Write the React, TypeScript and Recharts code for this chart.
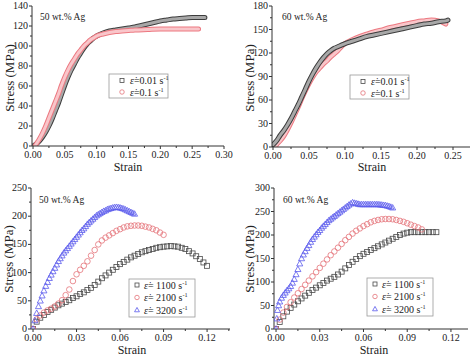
import React from 'react';
import { ComposedChart, Line, Scatter, XAxis, YAxis } from 'recharts';

const W = 474;
const H = 355;
const FONT = '"Liberation Serif", "DejaVu Serif", serif';

// ---------- Panel 1: 50 wt.% Ag, quasi-static ----------
const p1Slow: [number, number][] = [
  [0, 0], [0.005, 2], [0.01, 5], [0.015, 9], [0.02, 14], [0.025, 20], [0.03, 27], [0.035, 35],
  [0.04, 43], [0.045, 52], [0.05, 61], [0.055, 69], [0.06, 76], [0.065, 82], [0.07, 88],
  [0.075, 93], [0.08, 98], [0.085, 102], [0.09, 105], [0.095, 108], [0.1, 110], [0.11, 113],
  [0.12, 115], [0.13, 116], [0.14, 117], [0.15, 118], [0.16, 119], [0.17, 120.5], [0.18, 122],
  [0.19, 123.5], [0.2, 125], [0.21, 126], [0.22, 127], [0.23, 127.5], [0.24, 128], [0.25, 128.5],
  [0.26, 128.5], [0.27, 128.5],
];
const p1Fast: [number, number][] = [
  [0.003, 0], [0.005, 2], [0.01, 7], [0.015, 13], [0.02, 20], [0.025, 28], [0.03, 36], [0.035, 44],
  [0.04, 52], [0.045, 61], [0.05, 69], [0.055, 76], [0.06, 82], [0.065, 87], [0.07, 92],
  [0.075, 96], [0.08, 100], [0.085, 103], [0.09, 106], [0.095, 108], [0.1, 110], [0.11, 112],
  [0.12, 113.5], [0.13, 114.5], [0.14, 115], [0.15, 115.5], [0.16, 116], [0.18, 116.5],
  [0.2, 117], [0.22, 117], [0.24, 117], [0.26, 117],
];
const p1XTicks = [0, 0.025, 0.05, 0.075, 0.1, 0.125, 0.15, 0.175, 0.2, 0.225, 0.25, 0.275, 0.3];
const p1YTicks = [0, 10, 20, 30, 40, 50, 60, 70, 80, 90, 100, 110, 120, 130, 140];

// ---------- Panel 2: 60 wt.% Ag, quasi-static ----------
const p2Slow: [number, number][] = [
  [0, 3], [0.005, 8], [0.01, 15], [0.015, 21], [0.02, 28], [0.025, 36], [0.03, 45], [0.035, 54],
  [0.04, 64], [0.045, 74], [0.05, 84], [0.055, 93], [0.06, 101], [0.065, 108], [0.07, 114],
  [0.075, 119], [0.08, 123], [0.085, 126], [0.09, 128], [0.095, 130], [0.1, 132], [0.11, 135],
  [0.12, 138], [0.13, 141], [0.14, 143], [0.15, 145], [0.16, 147], [0.17, 149], [0.18, 151],
  [0.19, 153], [0.2, 155], [0.21, 157], [0.22, 158], [0.23, 160], [0.24, 161], [0.243, 162],
];
const p2Fast: [number, number][] = [
  [0.003, 0], [0.005, 3], [0.01, 8], [0.015, 14], [0.02, 22], [0.025, 31], [0.03, 41], [0.035, 51],
  [0.04, 62], [0.045, 72], [0.05, 81], [0.055, 89], [0.06, 96], [0.065, 101], [0.07, 106],
  [0.075, 110], [0.08, 115], [0.085, 119], [0.09, 123], [0.095, 128], [0.1, 132], [0.11, 137],
  [0.12, 141], [0.13, 144], [0.14, 147], [0.15, 149], [0.16, 152], [0.17, 154], [0.18, 156],
  [0.19, 158], [0.2, 160], [0.21, 161], [0.22, 162], [0.23, 161], [0.24, 157],
];
const p2XTicks = [0, 0.025, 0.05, 0.075, 0.1, 0.125, 0.15, 0.175, 0.2, 0.225, 0.25];
const p2YTicks = [0, 15, 30, 45, 60, 75, 90, 105, 120, 135, 150, 165, 180];

// ---------- Panel 3: 50 wt.% Ag, dynamic ----------
const p3R1100: [number, number][] = [
  [0, 0], [0.0025, 13], [0.005, 20], [0.0075, 25], [0.01, 30], [0.0125, 34], [0.015, 38],
  [0.0175, 42], [0.02, 45], [0.0225, 48], [0.025, 51], [0.0275, 55], [0.03, 58], [0.0325, 62],
  [0.035, 65], [0.0375, 69], [0.04, 73], [0.0425, 78], [0.045, 84], [0.0475, 90], [0.05, 95],
  [0.0525, 100], [0.055, 105], [0.0575, 110], [0.06, 115], [0.0625, 119], [0.065, 123],
  [0.0675, 127], [0.07, 130], [0.0725, 133], [0.075, 136], [0.0775, 138], [0.08, 140],
  [0.0825, 142], [0.085, 144], [0.0875, 145], [0.09, 146], [0.0925, 146.5], [0.095, 147],
  [0.0975, 146.5], [0.1, 146], [0.1025, 144], [0.105, 142], [0.1075, 138], [0.11, 134],
  [0.1125, 129], [0.115, 124], [0.1175, 118], [0.12, 112],
];
const p3R2100: [number, number][] = [
  [0, 0], [0.0025, 17], [0.005, 24], [0.0075, 29], [0.01, 33], [0.0125, 36], [0.015, 40],
  [0.0175, 45], [0.02, 51], [0.0225, 60], [0.025, 70], [0.0275, 85], [0.03, 97], [0.0325, 105],
  [0.035, 112], [0.0375, 120], [0.04, 130], [0.0425, 140], [0.045, 150], [0.0475, 157],
  [0.05, 162], [0.0525, 166], [0.055, 170], [0.0575, 174], [0.06, 177], [0.0625, 180],
  [0.065, 182], [0.0675, 183], [0.07, 183.5], [0.0725, 183.5], [0.075, 183], [0.0775, 181.5],
  [0.08, 180], [0.0825, 177.5], [0.085, 175], [0.0875, 171], [0.09, 167],
];
const p3R3200: [number, number][] = [
  [0, 0], [0.00125, 15], [0.0025, 28], [0.00375, 40], [0.005, 50], [0.00625, 59], [0.0075, 68],
  [0.00875, 76], [0.01, 83], [0.01125, 90], [0.0125, 96], [0.01375, 102], [0.015, 108],
  [0.01625, 114], [0.0175, 120], [0.01875, 125], [0.02, 130], [0.02125, 135], [0.0225, 139],
  [0.02375, 143], [0.025, 147], [0.02625, 151], [0.0275, 155], [0.02875, 159], [0.03, 163],
  [0.03125, 167], [0.0325, 171], [0.03375, 175], [0.035, 178], [0.03625, 182], [0.0375, 186],
  [0.03875, 189], [0.04, 192], [0.04125, 195], [0.0425, 198], [0.04375, 201], [0.045, 203],
  [0.04625, 205], [0.0475, 207], [0.04875, 209], [0.05, 210], [0.05125, 212], [0.0525, 213],
  [0.05375, 214], [0.055, 215], [0.05625, 215.5], [0.0575, 216], [0.05875, 215.5], [0.06, 215],
  [0.06125, 214], [0.0625, 213], [0.06375, 211.5], [0.065, 210], [0.06625, 208.5], [0.0675, 207],
  [0.06875, 205.5], [0.07, 204],
];
const p3XTicks = [0, 0.015, 0.03, 0.045, 0.06, 0.075, 0.09, 0.105, 0.12, 0.135];
const p3YTicks = [0, 25, 50, 75, 100, 125, 150, 175, 200, 225, 250];

// ---------- Panel 4: 60 wt.% Ag, dynamic ----------
const p4R1100: [number, number][] = [
  [0, 0], [0.0025, 15], [0.005, 27], [0.0075, 37], [0.01, 45], [0.0125, 52], [0.015, 59],
  [0.0175, 65], [0.02, 71], [0.0225, 77], [0.025, 83], [0.0275, 88], [0.03, 93], [0.0325, 98],
  [0.035, 103], [0.0375, 107], [0.04, 111], [0.0425, 116], [0.045, 122], [0.0475, 129],
  [0.05, 136], [0.0525, 143], [0.055, 149], [0.0575, 155], [0.06, 160], [0.0625, 164],
  [0.065, 168], [0.0675, 172], [0.07, 176], [0.0725, 180], [0.075, 184], [0.0775, 188],
  [0.08, 192], [0.0825, 196], [0.085, 200], [0.0875, 203], [0.09, 205], [0.0925, 206],
  [0.095, 206], [0.0975, 206], [0.1, 206], [0.1025, 206], [0.105, 206], [0.1075, 206], [0.11, 206],
];
const p4R2100: [number, number][] = [
  [0, 0], [0.0025, 20], [0.005, 35], [0.0075, 47], [0.01, 57], [0.0125, 67], [0.015, 76],
  [0.0175, 85], [0.02, 94], [0.0225, 103], [0.025, 112], [0.0275, 121], [0.03, 130],
  [0.0325, 139], [0.035, 148], [0.0375, 157], [0.04, 165], [0.0425, 173], [0.045, 181],
  [0.0475, 189], [0.05, 196], [0.0525, 203], [0.055, 209], [0.0575, 214], [0.06, 219],
  [0.0625, 223], [0.065, 227], [0.0675, 230], [0.07, 232], [0.0725, 233.5], [0.075, 234],
  [0.0775, 234], [0.08, 233.5], [0.0825, 232], [0.085, 230], [0.0875, 228], [0.09, 225],
  [0.0925, 222], [0.095, 219], [0.0975, 216], [0.1, 212],
];
const p4R3200: [number, number][] = [
  [0, 0], [0.0005, 22], [0.001, 40], [0.00175, 50], [0.0025, 58], [0.00375, 66], [0.005, 72],
  [0.00625, 77], [0.0075, 82], [0.00875, 86], [0.01, 91], [0.01125, 98], [0.0125, 106],
  [0.01375, 116], [0.015, 127], [0.01625, 139], [0.0175, 150], [0.01875, 158], [0.02, 165],
  [0.02125, 172], [0.0225, 178], [0.02375, 185], [0.025, 191], [0.02625, 196], [0.0275, 201],
  [0.02875, 206], [0.03, 210], [0.03125, 215], [0.0325, 219], [0.03375, 223], [0.035, 227],
  [0.03625, 231], [0.0375, 234], [0.03875, 237], [0.04, 240], [0.04125, 243], [0.0425, 246],
  [0.04375, 249], [0.045, 252], [0.04625, 255], [0.0475, 258], [0.04875, 261], [0.05, 264],
  [0.05125, 266.5], [0.0525, 269], [0.05375, 268], [0.055, 267], [0.05625, 266], [0.0575, 265],
  [0.05875, 265], [0.06, 265], [0.06125, 265], [0.0625, 265], [0.06375, 265], [0.065, 265],
  [0.06625, 265], [0.0675, 265], [0.06875, 265], [0.07, 265], [0.07125, 264.5], [0.0725, 264],
  [0.07375, 263.5], [0.075, 263], [0.07625, 262], [0.0775, 261], [0.07875, 259.5], [0.08, 258],
];
const p4XTicks = [0, 0.015, 0.03, 0.045, 0.06, 0.075, 0.09, 0.105, 0.12];
const p4YTicks = [0, 25, 50, 75, 100, 125, 150, 175, 200, 225, 250, 275, 300];

// ---------- Labels ----------
const annoTop = ['50 wt.% Ag', '60 wt.% Ag'];
const quasiRates = ['0.01', '0.1'];
const dynRates = ['1100', '2100', '3200'];
const axisX = 'Strain';
const axisY = 'Stress (MPa)';

const BLACK = '#4a4a4a';
const RED = '#e5737a';
const BLUE = '#5a5aec';

const toPts = (a: [number, number][]) => a.map(([x, y]) => ({ x, y }));

const isMajor = (v: number, step: number) => Math.abs(v / step - Math.round(v / step)) < 1e-6;

function XTick(props: any) {
  const { x, y, payload, step, digits } = props;
  const v = payload.value as number;
  const major = isMajor(v, step);
  return (
    <g>
      <line x1={x} x2={x} y1={y} y2={y + (major ? 3 : 2)} stroke="#333" strokeWidth={1} />
      {major && (
        <text x={x} y={y + 12} textAnchor="middle" fontSize={10} fontFamily={FONT} fill="#222">
          {v.toFixed(digits)}
        </text>
      )}
    </g>
  );
}

function YTick(props: any) {
  const { x, y, payload, step } = props;
  const v = payload.value as number;
  const major = isMajor(v, step);
  return (
    <g>
      <line x1={x} x2={x - (major ? 3 : 2)} y1={y} y2={y} stroke="#333" strokeWidth={1} />
      {major && (
        <text x={x - 4} y={y + 3} textAnchor="end" fontSize={10} fontFamily={FONT} fill="#222">
          {String(v)}
        </text>
      )}
    </g>
  );
}

type PanelProps = {
  l: number; t: number; r: number; b: number;
  xDomain: [number, number]; yDomain: [number, number];
  xTicks: number[]; yTicks: number[];
  xStep: number; yStep: number;
  children: React.ReactNode;
};

function Panel({ l, t, r, b, xDomain, yDomain, xTicks, yTicks, xStep, yStep, children }: PanelProps) {
  const yAxisW = 30;
  const xAxisH = 20;
  const margin = { left: l - yAxisW, top: t, right: W - r, bottom: H - b - xAxisH };
  return (
    <div style={{ position: 'absolute', left: 0, top: 0, width: W, height: H }}>
      <ComposedChart width={W} height={H} margin={margin}>
        <XAxis
          xAxisId="b" type="number" dataKey="x" domain={xDomain} allowDataOverflow ticks={xTicks}
          interval={0} height={xAxisH} tickSize={0} tickMargin={0} tickLine={false}
          axisLine={{ stroke: '#333' }}
          tick={(p: any) => <XTick {...p} step={xStep} digits={2} />}
        />
        <XAxis
          xAxisId="t" orientation="top" type="number" dataKey="x" domain={xDomain} allowDataOverflow
          height={0} tick={false} tickLine={false} axisLine={{ stroke: '#333' }}
        />
        <YAxis
          yAxisId="l" type="number" dataKey="y" domain={yDomain} allowDataOverflow ticks={yTicks}
          interval={0} width={yAxisW} tickSize={0} tickMargin={0} tickLine={false}
          axisLine={{ stroke: '#333' }}
          tick={(p: any) => <YTick {...p} step={yStep} />}
        />
        <YAxis
          yAxisId="r" orientation="right" type="number" dataKey="y" domain={yDomain} allowDataOverflow
          width={0} tick={false} tickLine={false} axisLine={{ stroke: '#333' }}
        />
        {children}
      </ComposedChart>
    </div>
  );
}

function bandLines(key: string, data: [number, number][], outer: string, inner: string) {
  const pts = toPts(data);
  return [
    <Line key={key + 'o'} xAxisId="b" yAxisId="l" data={pts} dataKey="y" type="monotone"
      stroke={outer} strokeWidth={5} dot={false} activeDot={false} isAnimationActive={false}
      strokeLinecap="round" />,
    <Line key={key + 'i'} xAxisId="b" yAxisId="l" data={pts} dataKey="y" type="monotone"
      stroke={inner} strokeWidth={3} dot={false} activeDot={false} isAnimationActive={false}
      strokeLinecap="round" />,
  ];
}

function Marker({ cx, cy, kind, color, s = 1 }: { cx: number; cy: number; kind: string; color: string; s?: number }) {
  if (cx == null || cy == null) return null;
  if (kind === 'square') {
    const h = 2.5 * s;
    return <rect x={cx - h} y={cy - h} width={2 * h} height={2 * h} fill="none" stroke={color} strokeWidth={0.8} />;
  }
  if (kind === 'circle') {
    return <circle cx={cx} cy={cy} r={2.8 * s} fill="none" stroke={color} strokeWidth={0.8} />;
  }
  const a = 3.2 * s;
  return (
    <polygon
      points={`${cx},${cy - a} ${cx - a * 0.95},${cy + a * 0.7} ${cx + a * 0.95},${cy + a * 0.7}`}
      fill="none" stroke={color} strokeWidth={0.8}
    />
  );
}

function markerScatter(key: string, data: [number, number][], kind: string, color: string) {
  return (
    <Scatter key={key} xAxisId="b" yAxisId="l" data={toPts(data)} dataKey="y" isAnimationActive={false}
      shape={(p: any) => <Marker cx={p.cx} cy={p.cy} kind={kind} color={color} />} />
  );
}

function Eps({ x, y, rate, size = 10, gap = '' }: { x: number; y: number; rate: string; size?: number; gap?: string }) {
  return (
    <text x={x} y={y} fontSize={size} fontFamily={FONT} fill="#222">
      <tspan fontStyle="italic">ε̇</tspan>
      <tspan>{`=${gap}${rate} s`}</tspan>
      <tspan dy={-4} fontSize={size * 0.62}>-1</tspan>
    </text>
  );
}

function Overlay() {
  const legendQ = (bx: number, by: number) => (
    <g>
      <rect x={bx} y={by} width={59} height={24} fill="#fff" stroke="#999" strokeWidth={0.8} />
      <Marker cx={bx + 13} cy={by + 6.5} kind="square" color={BLACK} s={0.8} />
      <Eps x={bx + 21} y={by + 10} rate={quasiRates[0]} />
      <Marker cx={bx + 13} cy={by + 18} kind="circle" color={RED} s={0.8} />
      <Eps x={bx + 21} y={by + 21.5} rate={quasiRates[1]} />
    </g>
  );
  const legendD = (bx: number, by: number) => (
    <g>
      <rect x={bx} y={by} width={66} height={38} fill="#fff" stroke="#999" strokeWidth={0.8} />
      <Marker cx={bx + 8} cy={by + 6} kind="square" color={BLACK} s={0.8} />
      <Eps x={bx + 15} y={by + 9.5} rate={dynRates[0]} gap=" " />
      <Marker cx={bx + 8} cy={by + 18.5} kind="circle" color={RED} s={0.8} />
      <Eps x={bx + 15} y={by + 22} rate={dynRates[1]} gap=" " />
      <Marker cx={bx + 8} cy={by + 31} kind="triangle" color={BLUE} s={0.8} />
      <Eps x={bx + 15} y={by + 34.5} rate={dynRates[2]} gap=" " />
    </g>
  );
  const yTitle = (cx: number, cy: number) => (
    <text x={cx} y={cy} transform={`rotate(-90 ${cx} ${cy})`} textAnchor="middle" dominantBaseline="central"
      fontSize={13} fontFamily={FONT} fill="#222">{axisY}</text>
  );
  const xTitle = (cx: number, cy: number) => (
    <text x={cx} y={cy} textAnchor="middle" dominantBaseline="central" fontSize={12} fontFamily={FONT} fill="#222">{axisX}</text>
  );
  const anno = (x: number, y: number, s: string) => (
    <text x={x} y={y} fontSize={9.5} fontFamily={FONT} fill="#222">{s}</text>
  );
  return (
    <svg width={W} height={H} style={{ position: 'absolute', left: 0, top: 0, pointerEvents: 'none' }}>
      {yTitle(9, 78)}
      {yTitle(249, 78)}
      {yTitle(8, 259)}
      {yTitle(249, 259)}
      {xTitle(128, 167)}
      {xTitle(372, 167)}
      {xTitle(132, 349.5)}
      {xTitle(374, 349.5)}
      {anno(40, 20, annoTop[0])}
      {anno(282, 20, annoTop[1])}
      {anno(39, 203, annoTop[0])}
      {anno(283, 203, annoTop[1])}
      {legendQ(109, 74)}
      {legendQ(350, 75)}
      {legendD(129, 279)}
      {legendD(367, 278)}
    </svg>
  );
}

export default function App() {
  return (
    <div style={{ position: 'absolute', left: 0, top: 0, width: W, height: H, background: '#fff', overflow: 'hidden' }}>
      <Panel l={32} t={6} r={224} b={146} xDomain={[-0.0016, 0.3]} yDomain={[0, 140]}
        xTicks={p1XTicks} yTicks={p1YTicks} xStep={0.05} yStep={20}>
        {bandLines('p1s', p1Slow, '#3c3c3c', '#a8a8a8')}
        {bandLines('p1f', p1Fast, '#ec7880', '#f9c6ca')}
      </Panel>
      <Panel l={272} t={6} r={470} b={147} xDomain={[-0.0014, 0.2736]} yDomain={[0, 180]}
        xTicks={p2XTicks} yTicks={p2YTicks} xStep={0.05} yStep={30}>
        {bandLines('p2f', p2Fast, '#ec7880', '#f9c6ca')}
        {bandLines('p2s', p2Slow, '#3c3c3c', '#a8a8a8')}
      </Panel>
      <Panel l={31} t={188} r={230} b={329} xDomain={[-0.0014, 0.1358]} yDomain={[0, 250]}
        xTicks={p3XTicks} yTicks={p3YTicks} xStep={0.03} yStep={50}>
        {markerScatter('p3a', p3R1100, 'square', BLACK)}
        {markerScatter('p3b', p3R2100, 'circle', RED)}
        {markerScatter('p3c', p3R3200, 'triangle', BLUE)}
      </Panel>
      <Panel l={274} t={188} r={468} b={329} xDomain={[-0.0014, 0.1317]} yDomain={[0, 300]}
        xTicks={p4XTicks} yTicks={p4YTicks} xStep={0.03} yStep={50}>
        {markerScatter('p4a', p4R1100, 'square', BLACK)}
        {markerScatter('p4b', p4R2100, 'circle', RED)}
        {markerScatter('p4c', p4R3200, 'triangle', BLUE)}
      </Panel>
      <Overlay />
    </div>
  );
}
